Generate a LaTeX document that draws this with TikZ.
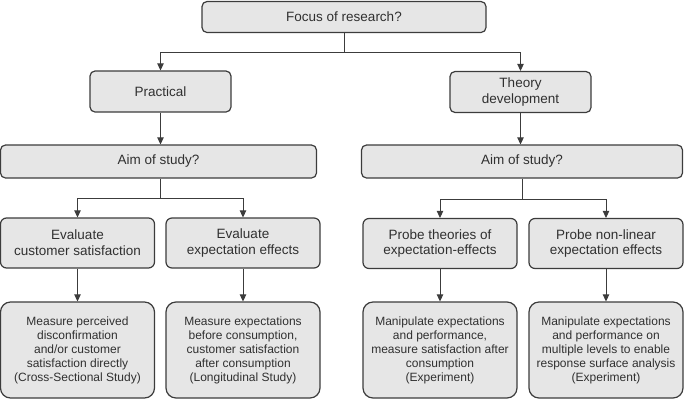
\documentclass[tikz,border=0pt]{standalone}
\usepackage{fontspec}
\setmainfont{Liberation Sans}
\usetikzlibrary{arrows.meta,positioning}
\definecolor{boxfill}{HTML}{E6E6E6}
\definecolor{boxline}{HTML}{3C3C3C}
\definecolor{txt}{HTML}{303030}

\begin{document}
\begin{tikzpicture}[
    x=1pt, y=1pt,
    box/.style={draw=boxline, fill=boxfill, line width=1.2pt, rounded corners=5pt, align=center, text=txt,
        inner sep=0pt, font=\fontsize{13.5}{15.7}\selectfont},
    bigbox/.style={box, rounded corners=10pt, font=\fontsize{12}{14}\selectfont,
        minimum width=154pt, minimum height=96pt},
    arr/.style={-{Triangle[length=7pt,width=6.5pt]}, draw=boxline, line width=0.9pt}
]
\useasboundingbox (0,0) rectangle (685,-400);
% top level
\node[box, minimum width=284pt, minimum height=31pt] (focus) at (344,-17) {Focus of research?};
\node[box, minimum width=141pt, minimum height=41pt] (prac) at (160.5,-91.5) {Practical};
\node[box, minimum width=141pt, minimum height=41pt] (theo) at (520.5,-92) {Theory\\development};
% aim of study
\node[box, minimum width=316pt, minimum height=33pt] (aimL) at (158.5,-161.5) {Aim of study?};
\node[box, minimum width=321pt, minimum height=33pt] (aimR) at (522,-161.5) {Aim of study?};
% aims
\node[box, rounded corners=6pt, minimum width=154pt, minimum height=50pt] (evalCS) at (77.5,-243) {Evaluate\\customer satisfaction};
\node[box, rounded corners=6pt, minimum width=154pt, minimum height=50pt] (evalEE) at (243,-243) {Evaluate\\expectation effects};
\node[box, rounded corners=6pt, minimum width=154pt, minimum height=50pt] (probeT) at (440,-243.5) {Probe theories of\\expectation-effects};
\node[box, rounded corners=6pt, minimum width=154pt, minimum height=50pt] (probeN) at (606,-243.5) {Probe non-linear\\expectation effects};
% methods
\node[bigbox] (measCS) at (77.5,-350) {Measure perceived\\disconfirmation\\and/or customer\\satisfaction directly\\(Cross-Sectional Study)};
\node[bigbox] (measEE) at (243,-350) {Measure expectations\\before consumption,\\customer satisfaction\\after consumption\\(Longitudinal Study)};
\node[bigbox] (manT) at (440,-350) {Manipulate expectations\\and performance,\\measure satisfaction after\\consumption\\(Experiment)};
\node[bigbox] (manN) at (606,-350) {Manipulate expectations\\and performance on\\multiple levels to enable\\response surface analysis\\(Experiment)};

\coordinate (split0) at (344,-52);
\coordinate (splitL) at (160.5,-198);
\coordinate (splitR) at (522,-199);

\draw[boxline, line width=0.9pt] (focus.south) -- (split0);
\draw[arr] (split0) -| (prac.north);
\draw[arr] (split0) -| (theo.north);
\draw[arr] (prac.south) -- (prac.south |- aimL.north);
\draw[arr] (theo.south) -- (theo.south |- aimR.north);

\draw[boxline, line width=0.9pt] (aimL.south -| splitL) -- (splitL);
\draw[arr] (splitL) -| (evalCS.north);
\draw[arr] (splitL) -| (evalEE.north);
\draw[boxline, line width=0.9pt] (aimR.south -| splitR) -- (splitR);
\draw[arr] (splitR) -| (probeT.north);
\draw[arr] (splitR) -| (probeN.north);

\draw[arr] (evalCS) -- (measCS);
\draw[arr] (evalEE) -- (measEE);
\draw[arr] (probeT) -- (manT);
\draw[arr] (probeN) -- (manN);
\end{tikzpicture}
\end{document}
